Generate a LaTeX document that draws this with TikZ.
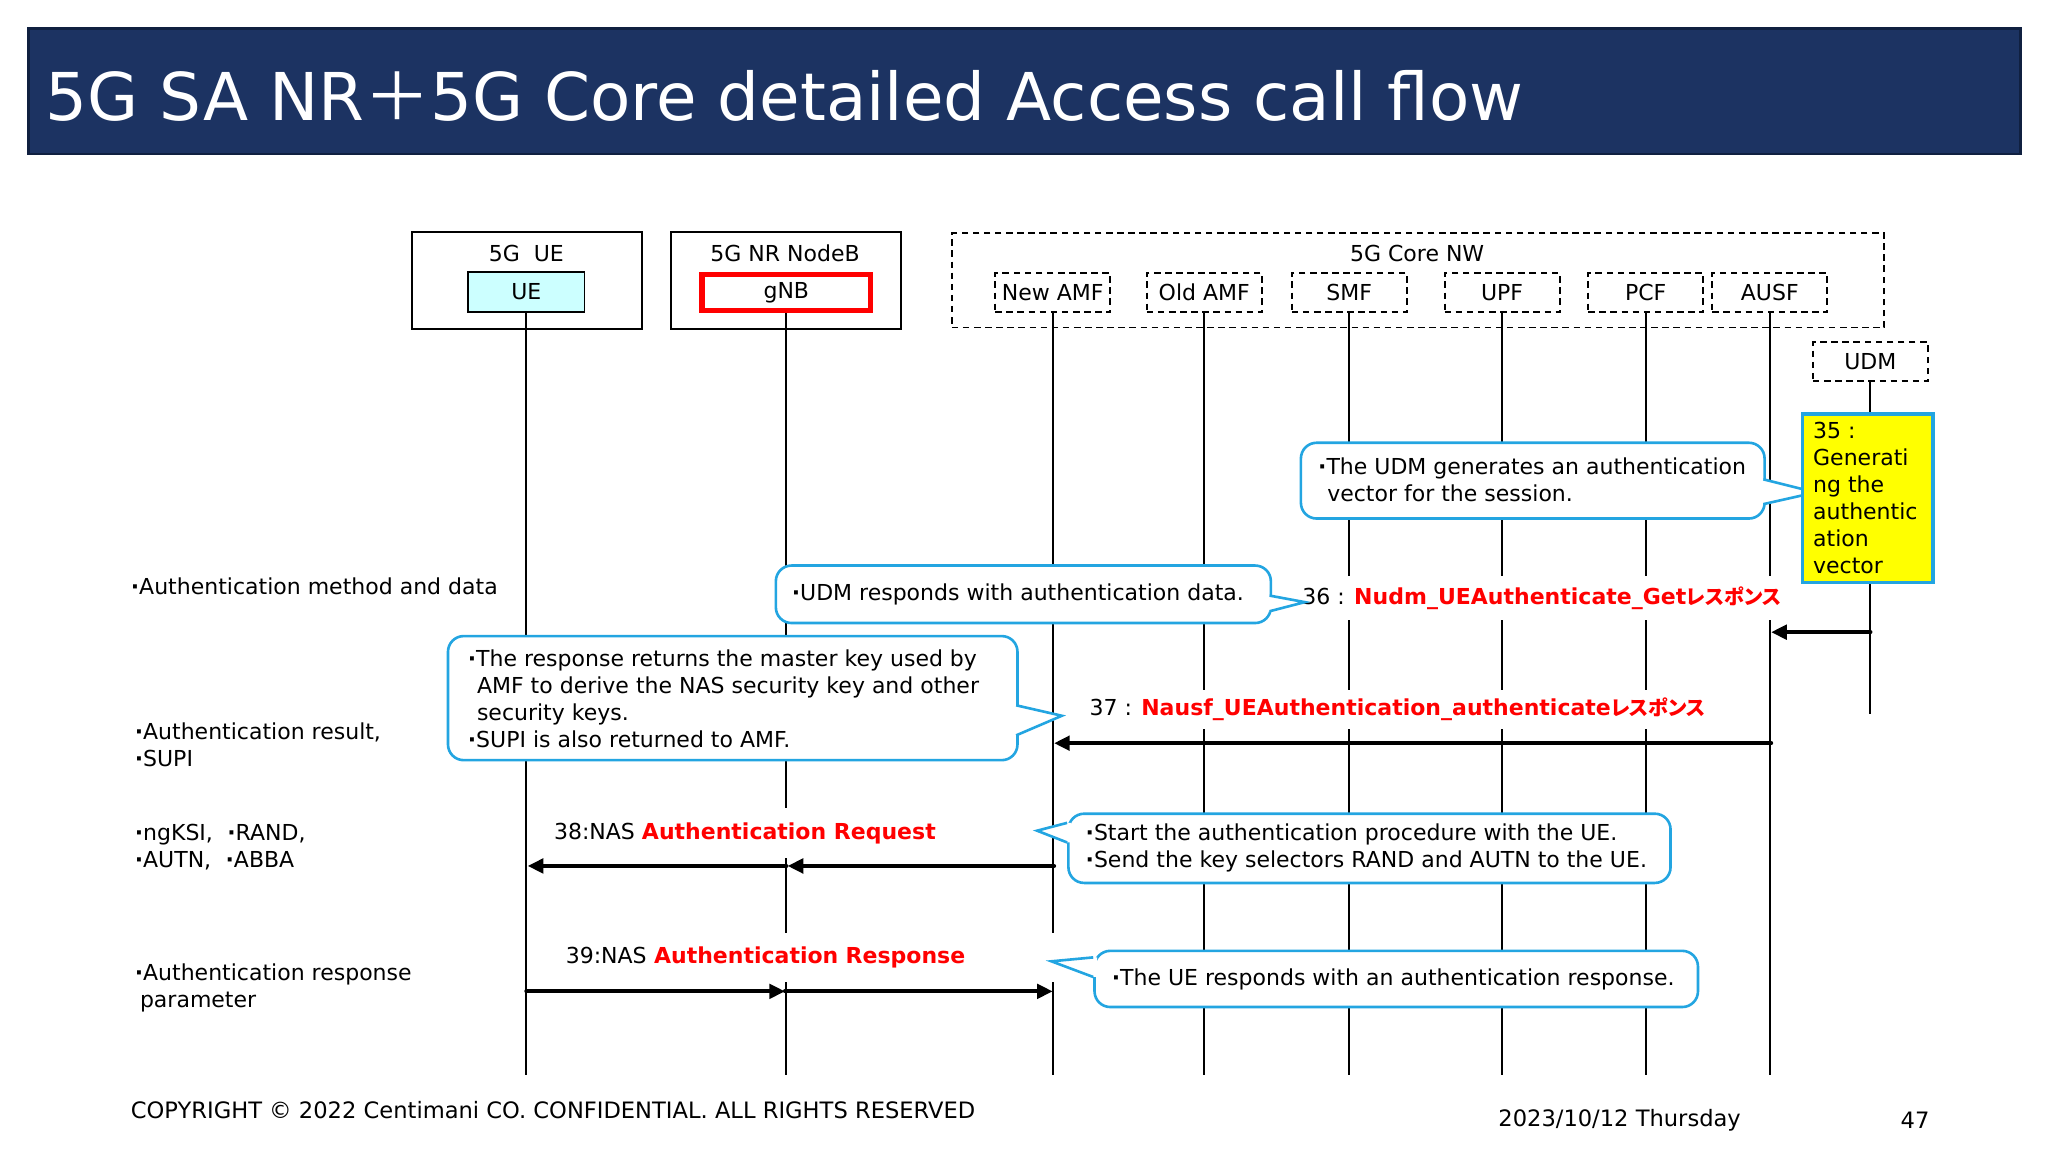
\documentclass[tikz,border=0pt]{standalone}
\usepackage{fontspec}
\setmainfont{DejaVu Sans}
\newfontfamily\cjk[RawFeature={+palt},Scale=0.92]{Noto Sans CJK JP}
\newfontfamily\cjkt{Noto Sans CJK JP}
\usetikzlibrary{arrows.meta}
\definecolor{navy}{RGB}{28,51,98}
\definecolor{navyedge}{RGB}{16,32,64}
\definecolor{cyanfill}{RGB}{204,255,255}
\definecolor{callblue}{RGB}{35,165,225}
\definecolor{msgred}{RGB}{255,0,0}
\definecolor{ylw}{RGB}{255,255,0}
\newcommand\fs{\fontsize{16.85}{20.7}\selectfont}
\newcommand\ffs{\fontsize{17.3}{20.7}\selectfont}
\newcommand\rt[1]{{\color{msgred}\bfseries #1}}
\newcommand\bl{{\bfseries ·}}
\newcommand\ptr[6]{%
  \fill[white] ({#1+#6},#2) -- (#1,#2) -- (#4,#5) -- (#1,#3) -- ({#1+#6},#3) -- cycle;
  \draw[cline] (#1,#2) -- (#4,#5) -- (#1,#3);}
\begin{document}
\begin{tikzpicture}[x=1pt,y=-1pt,
  box/.style={draw, line width=1.5pt, inner sep=0pt, fill=white},
  dbox/.style={draw, dash pattern=on 5pt off 3.5pt, line width=1.5pt, inner sep=0pt,
    minimum width=88pt, minimum height=30pt, font=\fs},
  life/.style={line width=1.5pt},
  msg/.style={line width=3.2pt, line cap=round, -{Triangle[length=12pt,width=11pt]}},
  cbox/.style={draw=callblue, line width=2pt, rounded corners=12pt, fill=white, inner sep=0pt, anchor=north west},
  cline/.style={draw=callblue, line width=2pt, line join=miter},
  txt/.style={inner sep=0pt, align=left, font=\fs},
  lbl/.style={fill=white, inner xsep=3pt, inner ysep=0pt, font=\fs, anchor=west}]
\useasboundingbox (0,0) rectangle (1568,882);

% title
\node[fill=navy, draw=navyedge, line width=2pt, minimum width=1525pt, minimum height=96pt,
  anchor=north west, inner sep=0pt] (bar) at (21,21) {};
\node[anchor=base west, text=white, font=\fontsize{50.5}{60}\selectfont, inner sep=0pt]
  (title) at (35,92) {5G SA NR{\cjkt ＋}5G Core detailed Access call flow};

% header boxes
\node[box, minimum width=176pt, minimum height=74pt, anchor=north west] (ueBox) at (315,177) {};
\node[txt] (ueLbl) at (403,194) {5G\ \ UE};
\node[box, fill=cyanfill, minimum width=89pt, minimum height=31pt, font=\fs] (ue) at (403,223.5) {UE};
\node[box, minimum width=176pt, minimum height=74pt, anchor=north west] (gnbBox) at (513,177) {};
\node[txt] (gnbLbl) at (601,194) {5G NR NodeB};
\node[draw=red, line width=4pt, fill=white, minimum width=129pt, minimum height=28pt,
  inner sep=0pt, font=\fs] (gnb) at (602,224) {gNB};
\node[draw, dash pattern=on 5pt off 3.5pt, line width=1.5pt, inner sep=0pt,
  minimum width=714pt, minimum height=72pt, anchor=north west] (core) at (728,178) {};
\node[txt] (coreLbl) at (1085,194) {5G Core NW};
\node[dbox] (namf) at (806,224) {New AMF};
\node[dbox] (oamf) at (922,224) {Old AMF};
\node[dbox] (smf) at (1033,224) {SMF};
\node[dbox] (upf) at (1150,224) {UPF};
\node[dbox] (pcf) at (1260,224) {PCF};
\node[dbox] (ausf) at (1355,224) {AUSF};
\node[dbox] (udm) at (1432,277) {UDM};

% lifelines
\coordinate (ueE) at (403,823);
\coordinate (gnbE) at (602,823);
\coordinate (namfE) at (806,823);
\coordinate (oamfE) at (922,823);
\coordinate (smfE) at (1033,823);
\coordinate (upfE) at (1150,823);
\coordinate (pcfE) at (1260,823);
\coordinate (ausfE) at (1355,823);
\coordinate (udmE) at (1432,547);
\draw[life] (ue.south) -- (ueE);
\draw[life] (gnb.south) -- (gnbE);
\draw[life] (namf.south) -- (namfE);
\draw[life] (oamf.south) -- (oamfE);
\draw[life] (smf.south) -- (smfE);
\draw[life] (upf.south) -- (upfE);
\draw[life] (pcf.south) -- (pcfE);
\draw[life] (ausf.south) -- (ausfE);
\draw[life] (udm.south) -- (udmE);

% message labels
\node[lbl, minimum height=34pt] (l36) at (994,458)
  {36 : \rt{Nudm\_UEAuthenticate\_Get{\cjk レスポンス}}};
\node[lbl, minimum height=30pt] (l37) at (831,543)
  {37 : \rt{Nausf\_UEAuthentication\_authenticate{\cjk レスポンス}}};
\node[lbl, minimum height=38pt] (l38) at (421,638) {38:NAS \rt{Authentication Request}};
\node[lbl, minimum height=38pt, text width=376pt, align=left] (l39) at (430,733)
  {39:NAS \rt{Authentication Response}};

% callouts
\node[cbox, minimum width=355pt, minimum height=58pt] (c1) at (995,338) {};
\ptr{1350}{367}{386}{1390}{377}{-3}
\node[txt, anchor=west] (t1) at (1009,367.5)
  {\bl The UDM generates an authentication\\\hspace*{7pt}vector for the session.};

\node[cbox, minimum width=379pt, minimum height=44pt] (c2) at (593,432) {};
\ptr{972}{456}{468}{999}{461}{-3}
\node[txt, anchor=west] (t2) at (606,455) {\bl UDM responds with authentication data.};

\node[cbox, minimum width=436pt, minimum height=95pt] (c3) at (342,486) {};
\ptr{778}{540}{563}{813}{548}{-3}
\node[txt, anchor=west] (t3) at (358,535)
  {\bl The response returns the master key used by\\\hspace*{7pt}AMF to derive the NAS security key and other\\\hspace*{7pt}security keys.\\\bl SUPI is also returned to AMF.};

\node[cbox, minimum width=461pt, minimum height=53pt] (c4) at (817,622) {};
\ptr{817}{630}{645}{794}{636}{3}
\node[txt, anchor=west] (t4) at (831,649.5)
  {\bl Start the authentication procedure with the UE.\\\bl Send the key selectors RAND and AUTN to the UE.};

\node[cbox, minimum width=462pt, minimum height=43pt] (c5) at (837,727) {};
\ptr{837}{733}{748}{805}{736}{3}
\node[txt, anchor=west] (t5) at (851,750) {\bl The UE responds with an authentication response.};

% yellow step box
\node[draw=callblue, line width=3pt, fill=ylw, minimum width=100pt, minimum height=129pt,
  anchor=north west, inner sep=0pt] (v35) at (1378.5,315.5) {};
\node[txt, anchor=north west] (t35) at (1388,323)
  {35 :\\Generati\\ng the\\authentic\\ation\\vector};

% messages
\coordinate (udm36) at (1432,484);
\coordinate (ausf36) at (1356,484);
\coordinate (ausf37) at (1356,569);
\coordinate (amf37) at (807,569);
\coordinate (amf38) at (807,663);
\coordinate (gnb38) at (603,663);
\coordinate (gnb38b) at (602,663);
\coordinate (ue38) at (404,663);
\coordinate (ue39) at (403,759);
\coordinate (gnb39) at (601,759);
\coordinate (amf39) at (806,759);
\draw[msg] (udm36) -- (ausf36);
\draw[msg] (ausf37) -- (amf37);
\draw[msg] (amf38) -- (gnb38);
\draw[msg] (gnb38b) -- (ue38);
\draw[msg] (ue39) -- (gnb39);
\draw[msg] (gnb39) -- (amf39);

% parameter notes
\node[txt, anchor=west] (p36) at (100,449) {\bl Authentication method and data};
\node[txt, anchor=west] (p37) at (103,570.5) {\bl Authentication result,\\\bl SUPI};
\node[txt, anchor=west] (p38) at (103,648.5) {\bl ngKSI,\hspace{11pt}\bl RAND,\\\bl AUTN,\hspace{11pt}\bl ABBA};
\node[txt, anchor=west] (p39) at (103,756.5) {\bl Authentication response\\\hspace*{4pt}parameter};

% footer
\node[txt, font=\ffs, anchor=west] (copy) at (100,850) {COPYRIGHT © 2022 Centimani CO. CONFIDENTIAL. ALL RIGHTS RESERVED};
\node[txt, font=\ffs, anchor=west] (date) at (1147,858) {2023/10/12 Thursday};
\node[txt, font=\ffs, anchor=west] (page) at (1455,858) {47};
\end{tikzpicture}
\end{document}
